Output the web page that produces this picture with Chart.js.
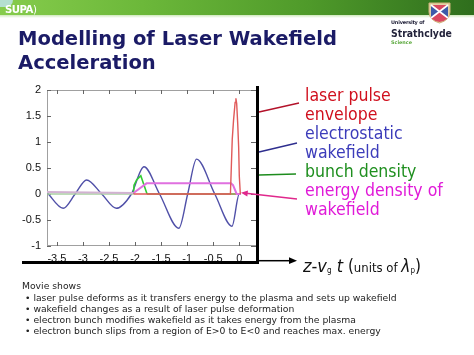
<!DOCTYPE html>
<html><head><meta charset="utf-8">
<script src="https://cdn.jsdelivr.net/npm/chart.js"></script>
<style>
html,body{margin:0;padding:0;background:#fff;}
body{width:474px;height:355px;position:relative;overflow:hidden;}
.t{position:absolute;white-space:nowrap;line-height:1.2;}
#banner{position:absolute;left:0;top:0;width:474px;height:15px;background:linear-gradient(to right,#86cc4c 0%,#6cb83a 30%,#4f9a2a 65%,#2f6e1d 100%);}
#stripe{position:absolute;left:0;top:15px;width:474px;height:3px;background:linear-gradient(to bottom,#cfe8bc,#ffffff);}
#c{position:absolute;left:0;top:0;}
</style></head>
<body>
<div id="banner"></div><div id="stripe"></div>
<div style="position:absolute;left:0;top:0;width:13px;height:7px;border-radius:0 0 8px 0;background:#bfe3f0;opacity:0.8"></div>
<svg style="position:absolute;left:428px;top:2px" width="23" height="22" viewBox="0 0 23 22">
<path d="M1 1 H22 V10 Q22 18 11.5 21 Q1 18 1 10 Z" fill="#e4d3a6" stroke="#cdb27a" stroke-width="1"/>
<path d="M3 3 H20 L11.5 10 Z" fill="#d9485e"/>
<path d="M3 3 L11.5 10 L3 16 Z" fill="#3d5aa8"/>
<path d="M20 3 L11.5 10 L20 16 Z" fill="#3d5aa8"/>
<path d="M3 16 L11.5 10 L20 16 Q17 19 11.5 20 Q6 19 3 16 Z" fill="#d9485e"/>
<path d="M3 3 L20 16 M20 3 L3 16" stroke="#ffffff" stroke-width="1.6"/>
</svg>
<canvas id="c" width="474" height="355"></canvas>
<script>
// ---------- data ----------
const xTicks = [-3.5, -3, -2.5, -2, -1.5, -1, -0.5, 0];
const yTicks = [-1, -0.5, 0, 0.5, 1, 1.5, 2];
const xMin = -3.69, xMax = 0.34, yMin = -1, yMax = 2;

const wakeX = [-3.69, -3.38, -3.15, -2.93, -2.64, -2.36, -2.07, -1.83, -1.53, -1.16, -0.99, -0.82, -0.47, -0.14, 0.0, 0.03];
const wakeY = [0.03, -0.275, 0, 0.27, 0, -0.275, 0, 0.525, 0, -0.66, 0, 0.67, 0, -0.62, 0, 0];

const laserX = [-2.03, -0.17, -0.155, -0.135, -0.11, -0.08, -0.065, -0.05, -0.03, -0.012, 0.0, 0.02, 0.03];
const laserY = [0, 0, 0.45, 1.05, 1.42, 1.76, 1.84, 1.74, 1.35, 0.9, 0.35, 0, 0];

const bunchX = [-3.69, -2.03, -2.02, -1.97, -1.89, -1.77, -0.16, 0.03];
const bunchY = [0, 0, 0.17, 0.27, 0.35, 0, 0, 0];

const energyX = [-3.69, -2.03, -1.78, -0.16, -0.12, -0.05, 0.03];
const energyY = [0.04, 0.02, 0.205, 0.205, 0.17, 0, 0];

const legendLabels = [
  ["laser pulse", "envelope"],
  ["electrostatic", "wakefield"],
  ["bunch density"],
  ["energy density of", "wakefield"]
];
const legendColors = ["#d0101e", "#3c3cba", "#1f8f1f", "#e01ad8"];
const titleLines = ["Modelling of Laser Wakefield", "Acceleration"];
const notesHead = "Movie shows";
const notes = [
  "laser pulse deforms as it transfers energy to the plasma and sets up wakefield",
  "wakefield changes as a result of laser pulse deformation",
  "electron bunch modifies wakefield as it takes energy from the plasma",
  "electron bunch slips from a region of E>0 to E<0 and reaches max. energy"
];

// ---------- text helpers ----------
const mctx = document.createElement('canvas').getContext('2d');
function fit(text, font, target){ mctx.font = font.replace('{s}', '100px'); return 100*target/mctx.measureText(text).width; }
function place(html, x, baseline, fs, css){
  const d = document.createElement('div'); d.className='t';
  d.innerHTML = html; d.style.left = x+'px'; d.style.top = (baseline - 0.946*fs)+'px';
  d.style.fontSize = fs+'px'; d.style.cssText += css; document.body.appendChild(d); return d;
}
const DJ = '"DejaVu Sans", Verdana, sans-serif';
const DJC = '"DejaVu Sans Condensed", "DejaVu Sans", Tahoma, sans-serif';

// title
const tfs = fit(titleLines[0], 'bold {s} '+DJ, 319);
place(titleLines[0], 18, 45, tfs, 'font-family:'+DJ+';font-weight:bold;color:#1b1b66;');
place(titleLines[1], 18, 69, tfs, 'font-family:'+DJ+';font-weight:bold;color:#1b1b66;');

// SUPA
const sfs = fit('SUPA', 'bold {s} '+DJ, 30);
place('SUPA<span style="font-weight:normal">)</span>', 5, 13.5, sfs, 'font-family:'+DJ+';font-weight:bold;color:#fff;letter-spacing:-0.5px;');

// Strathclyde
place('University of', 391, 25, fit('University of','bold {s} '+DJ,36), 'font-family:'+DJ+';font-weight:bold;color:#22223a;letter-spacing:-0.2px;');
place('Strathclyde', 391, 37, fit('Strathclyde','bold {s} '+DJC,61), 'font-family:'+DJC+';font-weight:bold;color:#22223a;');
place('Science', 391, 45, fit('Science','bold {s} '+DJ,21), 'font-family:'+DJ+';font-weight:bold;color:#5aa83c;');

// legend text
const lfs = fit(legendLabels[3][0], '{s} '+DJC, 138);
let bl = 101.7;
legendLabels.forEach((lines,i)=>{ lines.forEach(line=>{ place(line, 305, bl, lfs, 'font-family:'+DJC+';color:'+legendColors[i]+';'); bl += 18.9; }); });

// axis label
place('<i style="font-size:18px">z</i><span style="font-size:18px">-</span><i style="font-size:18px">v</i><sub style="font-size:8px;vertical-align:-1px">g</sub><i style="font-size:18px">&nbsp;t</i> <span style="font-size:17px">(</span><span style="font-size:13px">units of </span><i style="font-size:17px">λ</i><sub style="font-size:8px;vertical-align:-1px">p</sub><span style="font-size:17px">)</span>', 303, 271, 17, 'font-family:'+DJC+';color:#111;');

// notes
const nfs = fit('• '+notes[0], '{s} '+DJ, 372);
place(notesHead, 22, 289, nfs, 'font-family:'+DJ+';color:#222;');
notes.forEach((n,i)=>place('• '+n, 25, 300.5 + i*11.1, nfs, 'font-family:'+DJ+';color:#222;'));

// ---------- chart ----------
const pts = (xs, ys) => xs.map((x,i)=>({x, y: ys[i]}));
const lightLeft = (normal, light) => ({ borderColor: c => (c.p1.parsed.x <= -2.03 ? light : normal) });

const deco = {
  id: 'deco',
  beforeDatasetsDraw(chart){
    const {ctx, chartArea:a, scales:{x, y}} = chart;
    ctx.save();
    ctx.strokeStyle = '#a0a0a0'; ctx.lineWidth = 1;
    ctx.strokeRect(a.left+0.5, a.top+0.5, a.right-a.left-1, a.bottom-a.top-1);
    ctx.strokeStyle = '#666';
    xTicks.forEach(v=>{ const px = Math.round(x.getPixelForValue(v))+0.5;
      ctx.beginPath(); ctx.moveTo(px, a.bottom); ctx.lineTo(px, a.bottom-4);
      ctx.moveTo(px, a.top); ctx.lineTo(px, a.top+4); ctx.stroke(); });
    yTicks.forEach(v=>{ const py = Math.round(y.getPixelForValue(v))+0.5;
      ctx.beginPath(); ctx.moveTo(a.left, py); ctx.lineTo(a.left+4, py);
      ctx.moveTo(a.right-6, py); ctx.lineTo(a.right, py); ctx.stroke(); });
    ctx.restore();
  },
  afterDatasetsDraw(chart){
    const {ctx} = chart;
    ctx.save();
    ctx.fillStyle = '#000';
    ctx.fillRect(256, 86, 3, 178);
    ctx.fillRect(22, 261, 237, 3);
    ctx.strokeStyle = '#000'; ctx.lineWidth = 1.5;
    ctx.beginPath(); ctx.moveTo(259, 260.7); ctx.lineTo(291, 260.7); ctx.stroke();
    ctx.beginPath(); ctx.moveTo(297, 260.7); ctx.lineTo(289, 257.3); ctx.lineTo(289, 264.1); ctx.closePath(); ctx.fill();
    const seg = (col, x1,y1,x2,y2)=>{ ctx.strokeStyle=col; ctx.lineWidth=1.4; ctx.beginPath(); ctx.moveTo(x1,y1); ctx.lineTo(x2,y2); ctx.stroke(); };
    seg('#b3122a', 259, 112, 299, 103);
    seg('#2e2e8e', 259, 152, 297, 143);
    seg('#1d8c1d', 259, 175, 296, 174);
    seg('#e0288c', 297, 199, 246, 193.3);
    ctx.fillStyle = '#e0288c';
    ctx.beginPath(); ctx.moveTo(241, 192.8); ctx.lineTo(248, 190.4); ctx.lineTo(247.3, 196.4); ctx.closePath(); ctx.fill();
    ctx.restore();
  }
};

new Chart(document.getElementById('c'), {
  type: 'scatter',
  data: { datasets: [
    { label:'laser pulse envelope', data: pts(laserX, laserY), showLine:true, borderColor:'#e05a5a', borderWidth:1.4, pointRadius:0, tension:0, order:0 },
    { label:'energy density of wakefield', data: pts(energyX, energyY), showLine:true, borderColor:'#e070e0', borderWidth:2, pointRadius:0, tension:0, order:1, segment: lightLeft('#e070e0', '#d2b2d2') },
    { label:'bunch density', data: pts(bunchX, bunchY), showLine:true, borderColor:'#7a8a2a', borderWidth:1.6, pointRadius:0, tension:0, order:2,
      segment: { borderColor: c => (c.p1.parsed.x <= -2.03 ? '#a8d0a0' : (c.p0.parsed.x >= -1.78 ? '#7e8a30' : '#33cc33')) } },
    { label:'electrostatic wakefield', data: pts(wakeX, wakeY), showLine:true, borderColor:'#5050a8', borderWidth:1.4, pointRadius:0, cubicInterpolationMode:'monotone', order:3 }
  ]},
  options: {
    responsive:false, animation:false, devicePixelRatio:1,
    layout: { padding: { left:0, top:90, right:217, bottom:89 } },
    plugins: { legend:{display:false}, tooltip:{enabled:false} },
    scales: {
      x: { type:'linear', min:xMin, max:xMax,
        afterFit: s => { s.height = 20; },
        afterBuildTicks: s => { s.ticks = xTicks.map(v=>({value:v})); },
        grid:{display:false, drawTicks:false}, border:{display:false},
        ticks:{ padding:6, color:'#111', font:{family:'"Liberation Sans", Arial, sans-serif', size:11}, callback: v => String(v) } },
      y: { type:'linear', min:yMin, max:yMax,
        afterFit: s => { s.width = 47; },
        afterBuildTicks: s => { s.ticks = yTicks.map(v=>({value:v})); },
        grid:{display:false, drawTicks:false}, border:{display:false},
        ticks:{ padding:6, color:'#111', font:{family:'"Liberation Sans", Arial, sans-serif', size:11}, callback: v => String(v) } }
    }
  },
  plugins: [deco]
});
</script>
</body></html>
